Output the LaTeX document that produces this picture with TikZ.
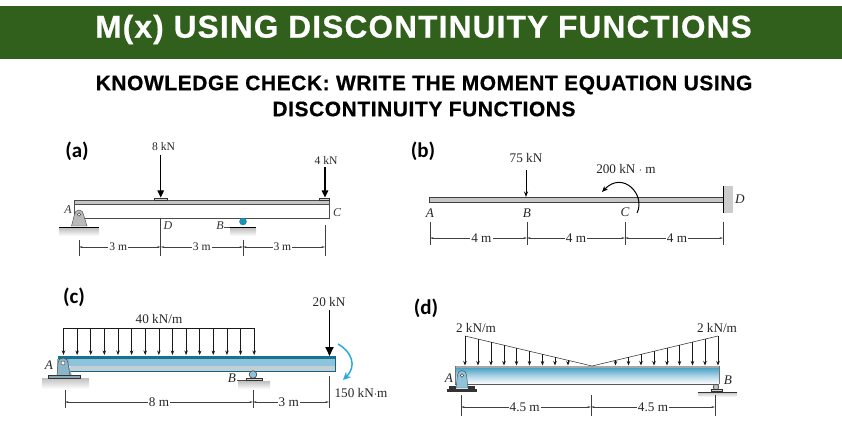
\documentclass[tikz,border=0pt]{standalone}
\usepackage{fontspec}
\setmainfont{Liberation Serif}
\newfontfamily\headfont{Liberation Sans}
\newfontfamily\titlefont[LetterSpace=3.9,BoldFeatures={FakeBold=0.7}]{Liberation Sans}
\newfontfamily\subfont[LetterSpace=2.6,BoldFeatures={FakeBold=0.5}]{Liberation Sans}
\newfontfamily\tagfont{Carlito}
\usetikzlibrary{arrows.meta}
\definecolor{banner}{HTML}{31601C}
\definecolor{teal1}{HTML}{1C8FB5}
\definecolor{web}{HTML}{8FC3DC}
\definecolor{cyan1}{HTML}{2BA9DE}
\tikzset{
  x=1pt,y=-1pt,
  lbl/.style={font=\fontsize{11.6}{13}\selectfont,inner sep=0pt,text=black!85},
  lblb/.style={font=\fontsize{13.2}{14}\selectfont,inner sep=0pt,text=black!85},
  ital/.style={font=\fontsize{12}{13}\itshape,inner sep=0pt,text=black!80},
  italb/.style={font=\fontsize{13.2}{14}\itshape,inner sep=0pt,text=black!85},
  tagl/.style={font=\tagfont\bfseries\fontsize{21}{24}\selectfont,inner sep=0pt},
  dim/.style={draw=black!75,line width=.5pt,{Stealth[length=3.5pt,width=1.8pt]}-{Stealth[length=3.5pt,width=1.8pt]}},
  dimlbl/.style={lbl,fill=white,inner xsep=1pt,inner ysep=1pt},
  dimlblb/.style={lblb,fill=white,inner xsep=1pt,inner ysep=1pt},
  tick/.style={draw=black!75,line width=.6pt},
  load/.style={draw=black!90,line width=.65pt,-{Stealth[length=4.5pt,width=3.5pt]}},
  bigload/.style={draw=black,line width=1.1pt,-{Stealth[length=7pt,width=6.5pt,inset=0pt]}},
  ground/.style={top color=gray!50,bottom color=white,draw=none},
  plate/.style={draw=black!80,fill=gray!35,line width=.6pt},
  pin/.style={draw=black!70,line width=.45pt},
}
\begin{document}
\begin{tikzpicture}
\useasboundingbox (0,0) rectangle (842,430);
% header
\fill[banner] (0,6) rectangle (842,59);
\node[text=white,inner sep=0pt,font=\titlefont\bfseries\fontsize{31.5}{36}\selectfont] (title) at (423.5,29.5) {M(x) USING DISCONTINUITY FUNCTIONS};
\node[inner sep=0pt,align=center,font=\subfont\bfseries\fontsize{21}{26}\selectfont] (sub) at (424,96) {KNOWLEDGE CHECK: WRITE THE MOMENT EQUATION USING\\DISCONTINUITY FUNCTIONS};
\node[tagl] (ta) at (77,151) {(a)};
\node[tagl] (tb) at (423,151) {(b)};
\node[tagl] (tc) at (74,297) {(c)};
\node[tagl] (td) at (426,308) {(d)};

% ---------- (a)
\fill[ground] (59,228) rectangle (99,236);
\fill[ground] (230,228) rectangle (256,236);
\draw[black!70,fill=white,line width=.7pt] (74.7,200.7) rectangle (329,218);
\fill[gray!45] (74.7,200.7) rectangle (329,204.3);
\draw[black!70,line width=.7pt] (74.7,204.3) -- (329,204.3);
\draw[pin,fill=gray!55] (71.5,226) -- (74.5,214.5) arc[start angle=180,end angle=360,radius=4.5] -- (87,226) -- cycle;
\draw[pin,fill=white] (79,214.5) circle (1.8);
\draw[black,line width=1pt] (59,227) -- (99,227);
\draw[black,line width=1pt] (230,227) -- (256,227);
\fill[teal1] (243,221.5) circle (3.8);
\draw[plate] (154,198) rectangle (167.5,200.7);
\draw[plate] (319,198) rectangle (329,200.7);
\coordinate (a8t) at (160.7,155); \coordinate (a8b) at (160.7,197.5);
\coordinate (a4t) at (325,167); \coordinate (a4b) at (325,197.5);
\draw[bigload] (a8t) -- (a8b);
\draw[bigload] (a4t) -- (a4b);
\node[lbl] (a8) at (163.5,147) {8 kN};
\node[lbl] (a4) at (326,160) {4 kN};
\node[ital] (aA) at (68,209.5) {A};
\node[ital] (aC) at (337,213) {C};
\node[ital] (aD) at (168,225.5) {D};
\node[ital] (aB) at (220,226) {B};
\draw[black!70,line width=.5pt] (224,227) -- (230,227);
\coordinate (a1) at (79,247); \coordinate (a2) at (160.7,247); \coordinate (a3) at (243,247); \coordinate (a4p) at (325,247);
\draw[tick] (79,240) -- (79,256);
\draw[tick] (160.7,218) -- (160.7,256);
\draw[tick] (243,240) -- (243,256);
\draw[tick] (325,225) -- (325,256);
\draw[dim] (a1) -- node[dimlbl,pos=.48] (ad1) {3 m} (a2);
\draw[dim] (a2) -- node[dimlbl,pos=.5] (ad2) {3 m} (a3);
\draw[dim] (a3) -- node[dimlbl,pos=.48] (ad3) {3 m} (a4p);

% ---------- (b)
\draw[black!75,fill=gray!45,line width=.6pt] (429,197.3) rectangle (723,202.3);
\fill[gray!40] (723,186) rectangle (733,213);
\draw[black,line width=.8pt] (723,186) -- (723,213);
\coordinate (b7t) at (526,170); \coordinate (b7b) at (526,197);
\draw[black,line width=1pt,-{Stealth[length=5.5pt,width=4pt]}] (b7t) -- (b7b);
\node[lblb] (b75) at (526,158) {75 kN};
\node[lblb] (b200) at (626,169) {200 kN $\cdot$ m};
\coordinate (bm1) at (637,213); \coordinate (bm2) at (602,192);
\draw[black,line width=1pt,-{Stealth[length=6pt,width=5pt]}] (bm1) .. controls (646,195) and (623,170) .. (bm2);
\node[italb] (bA) at (430,213) {A};
\node[italb] (bB) at (527,213) {B};
\node[italb] (bC) at (625,212) {C};
\node[italb] (bD) at (740,199) {D};
\coordinate (b1) at (430,238); \coordinate (b2) at (527,238); \coordinate (b3) at (625,238); \coordinate (b4) at (723,238);
\foreach \q in {430,527,625,723} \draw[tick] (\q,222) -- (\q,245);
\draw[dim] (b1) -- node[dimlblb,pos=.53] (bd1) {4 m} (b2);
\draw[dim] (b2) -- node[dimlblb,pos=.5] (bd2) {4 m} (b3);
\draw[dim] (b3) -- node[dimlblb,pos=.53] (bd3) {4 m} (b4);

% ---------- (c)
\fill[ground] (42,378) rectangle (89,389);
\fill[ground] (238,381) rectangle (270,389);
\fill[web] (58,357) rectangle (335,366);
\fill[web!70!black!40!white] (70,366) rectangle (335,371);
\draw[teal1!70!black,line width=.6pt] (70,371) -- (335,371) -- (335,356);
\fill[teal1!80!black] (58,356.2) rectangle (335,358.6);
\fill[web!70!gray] (57,359) -- (69,359) -- (69,366) -- (72,376) -- (57,376) -- cycle;
\draw[pin,fill=web!80!gray] (57,376) -- (58,363) arc[start angle=180,end angle=360,radius=5] -- (70,376) -- cycle;
\draw[pin,fill=white] (63,363) circle (2);
\draw[plate,fill=web!60!gray] (48,375.5) rectangle (80,378);
\draw[pin,fill=web,line width=.7pt] (253,374.5) circle (3.8);
\draw[plate] (246,378) rectangle (262,380.5);
\draw[black!90,line width=.65pt] (63,328) -- (254,328);
\foreach \i in {0,...,14} \draw[load] (63.5+13.62*\i,328) -- (63.5+13.62*\i,355);
\node[lblb] (c40) at (159,319) {40 kN/m};
\node[lblb] (c20) at (329,302) {20 kN};
\coordinate (c20t) at (329.5,310); \coordinate (c20b) at (329.5,356);
\draw[black,line width=1.8pt,-{Stealth[length=9pt,width=8pt,inset=0pt]}] (c20t) -- (c20b);
\coordinate (cm1) at (338,344); \coordinate (cm2) at (343,380);
\draw[cyan1,line width=1.5pt,-{Stealth[length=8pt,width=7.5pt]}] (cm1) .. controls (352,352) and (357,366) .. (cm2);
\node[lblb] (c150) at (361,393) {150 kN$\cdot$m};
\node[italb] (cA) at (49,365) {A};
\node[italb] (cB) at (232,378) {B};
\draw[black!70,line width=.5pt] (237,380) -- (246,380);
\coordinate (c1) at (65,402); \coordinate (c2) at (253,402); \coordinate (c3) at (329,402);
\draw[tick] (65,390) -- (65,408);
\draw[tick] (253,390) -- (253,408);
\draw[tick] (329,376) -- (329,408);
\draw[dim] (c1) -- node[dimlblb] (cd1) {8 m} (c2);
\draw[dim] (c2) -- node[dimlblb,pos=.47] (cd2) {3 m} (c3);

% ---------- (d)
\shade[top color=teal1!60!web,bottom color=white,middle color=web!70!white] (455,368) rectangle (719,384);
\draw[black!65,line width=.9pt] (455,384) -- (719,384);
\draw[gray!70,line width=1.6pt] (455,367) -- (719,367);
\draw[black!55,line width=.5pt] (455,366) -- (455,384);
\draw[black!55,line width=.5pt] (719,366) -- (719,384);
\fill[black!80] (447,388.5) rectangle (477,392);
\fill[black!80] (449,386) rectangle (456,389);
\fill[black!80] (468,386) rectangle (475,389);
\draw[pin,fill=web] (456,388) -- (457.5,375) arc[start angle=180,end angle=360,radius=4.5] -- (468,388) -- cycle;
\draw[pin,fill=white] (462,375.5) circle (1.7);
\fill[ground] (698,392) rectangle (737,397);
\draw[black!70,fill=gray!50,line width=.7pt] (716,387) circle (2.8);
\draw[plate] (711,389.5) rectangle (722,391);
\draw[black!80,line width=1pt] (698,392.5) -- (737,392.5);
\coordinate (dl) at (465,336); \coordinate (dm) at (592,366); \coordinate (dr) at (718,336);
\draw[black!75,line width=.6pt] (dl) -- (dm) -- (dr);
\foreach \q/\t in {465/336,478/339,491/342,504/345,516.5/348,529.5/351,542.5/354,555/357,568/360,
                   718/336,705/339,692.5/342,679.5/345,667/348,654/351,641/354,628.5/357,615.5/360}
  \draw[load] (\q,\t) -- (\q,365.5);
\node[lblb] (d2l) at (476,328) {2 kN/m};
\node[lblb] (d2r) at (717,328) {2 kN/m};
\node[italb] (dA) at (449,378) {A};
\node[italb] (dB) at (728,380) {B};
\coordinate (d1) at (461,407); \coordinate (d2) at (591,407); \coordinate (d3) at (715,407);
\foreach \q in {461,591,715} \draw[tick] (\q,395) -- (\q,416);
\draw[dim] (d1) -- node[dimlblb,pos=.49] (dd1) {4.5 m} (d2);
\draw[dim] (d2) -- node[dimlblb,pos=.5] (dd2) {4.5 m} (d3);
\end{tikzpicture}
\end{document}
